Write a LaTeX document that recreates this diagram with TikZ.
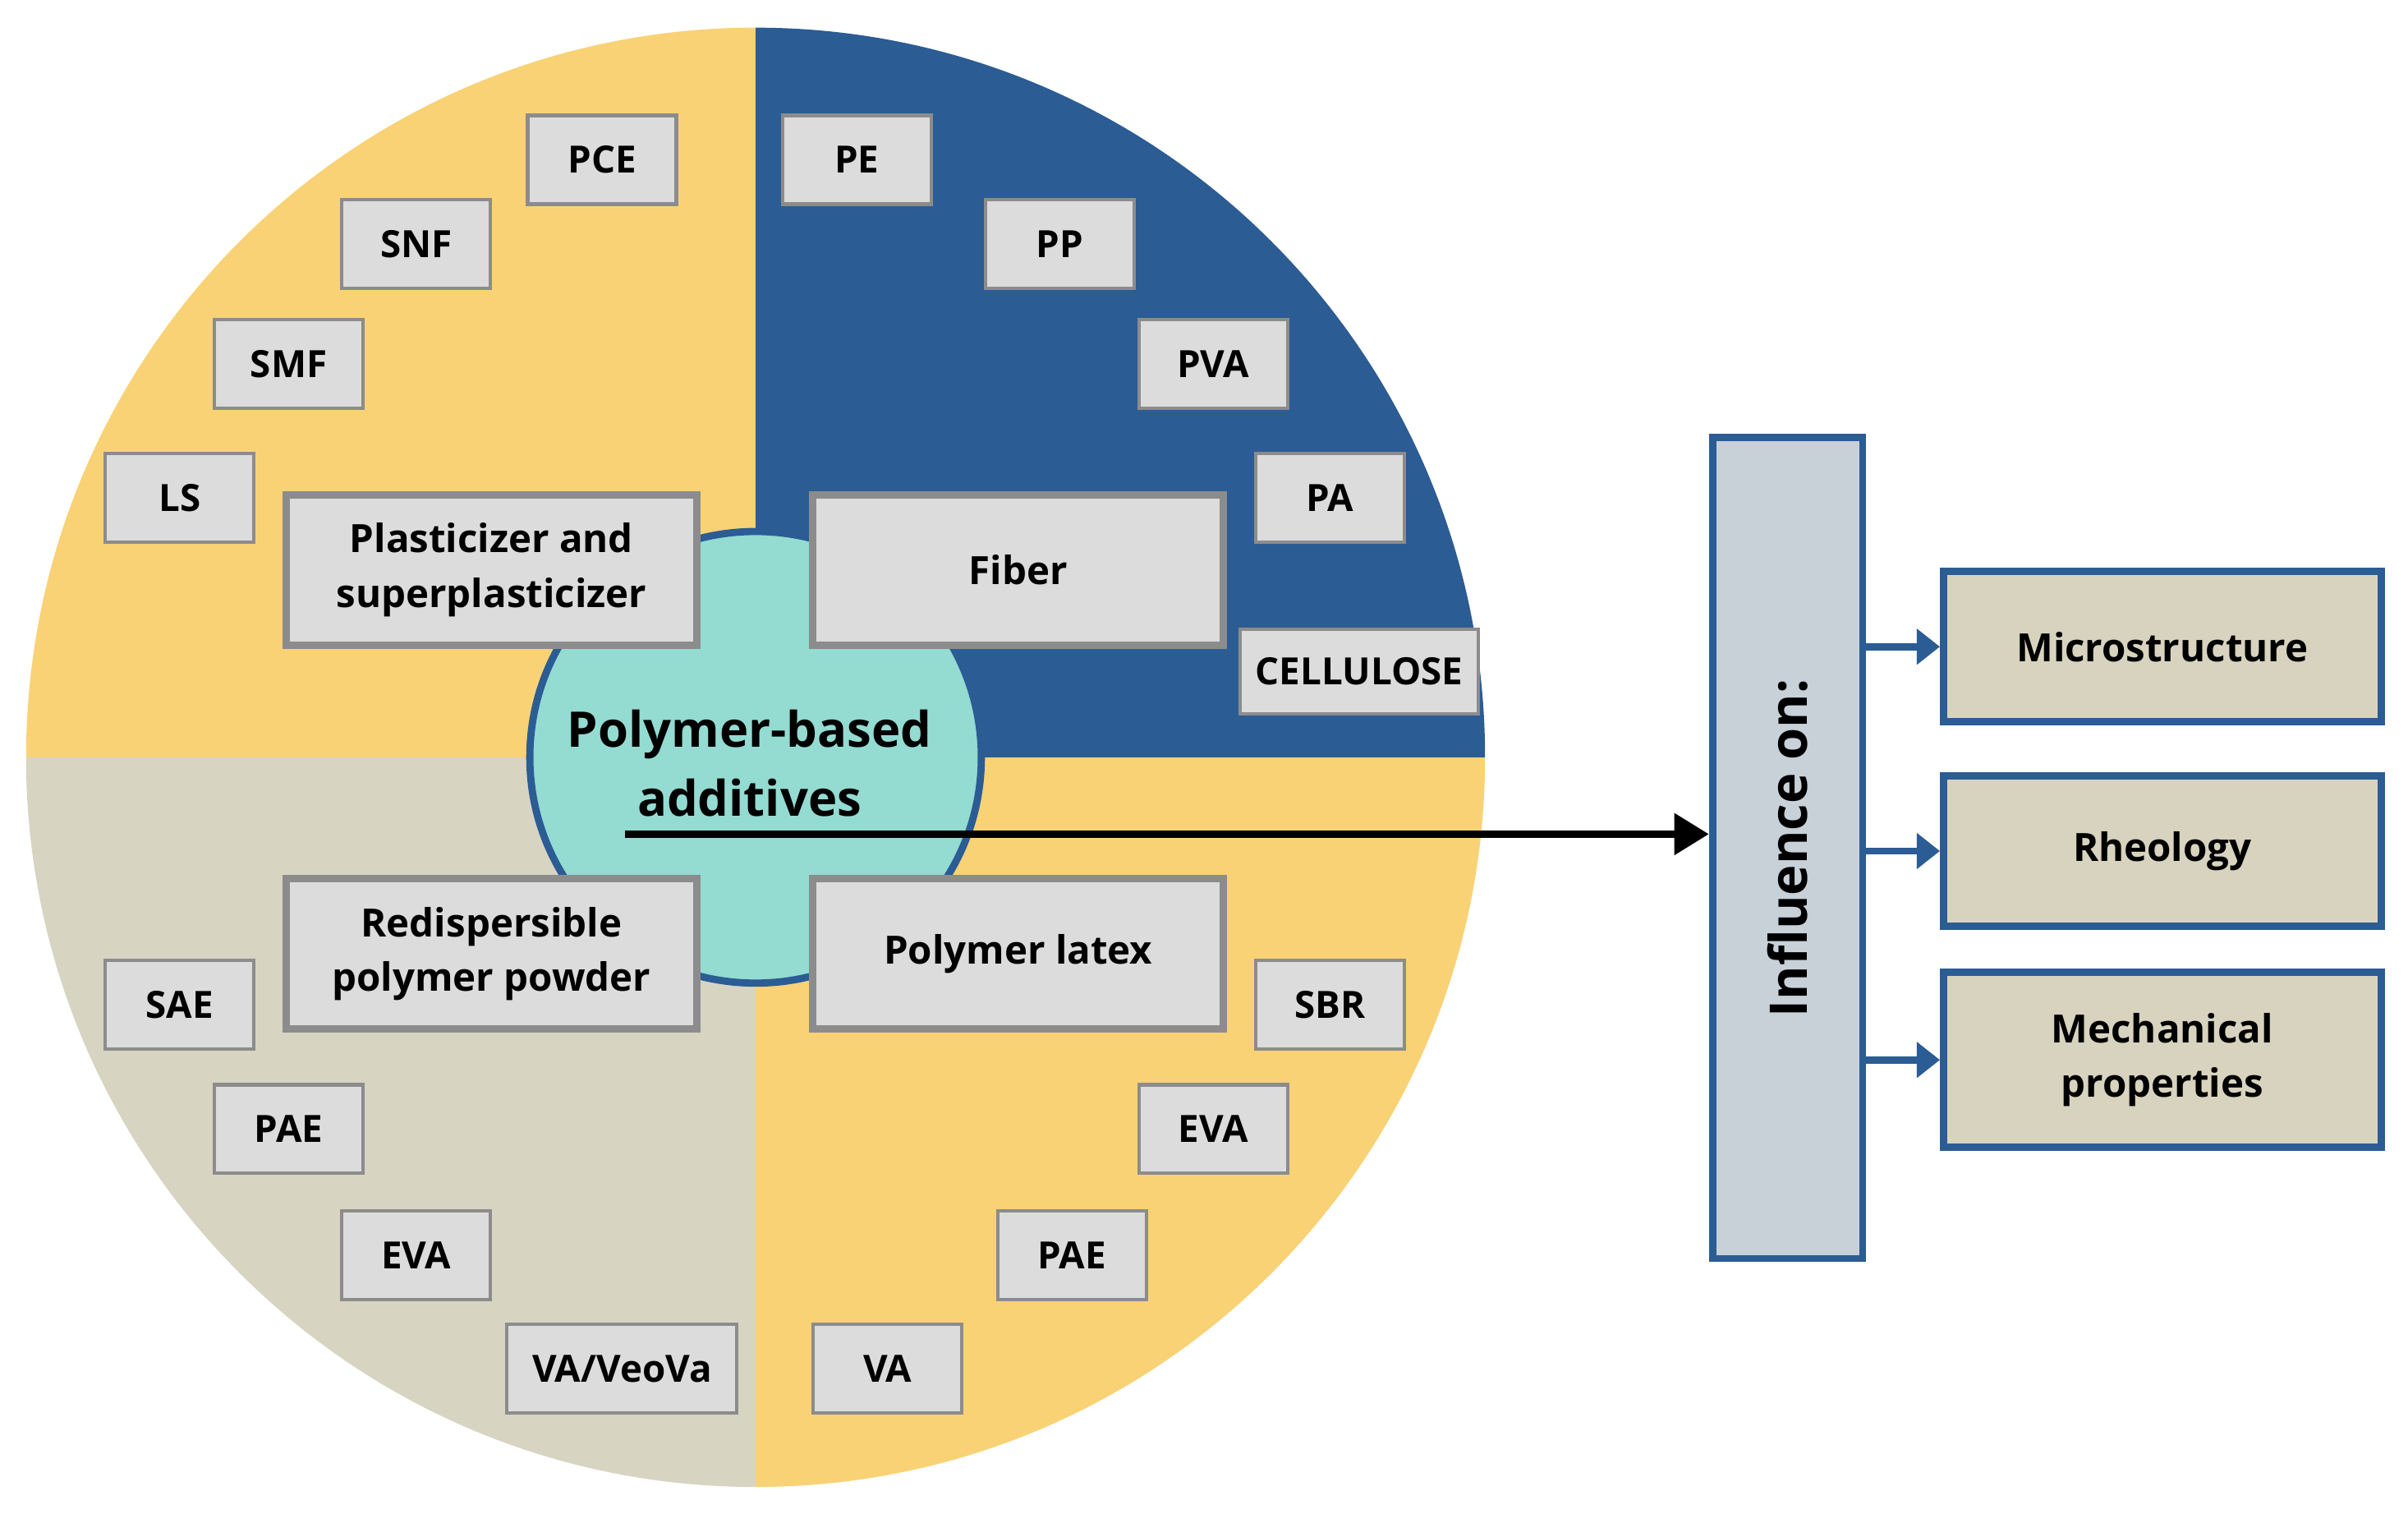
\documentclass[tikz,border=0pt]{standalone}
\usepackage{fontspec}
\setmainfont{Open Sans}
\usetikzlibrary{arrows.meta}
\definecolor{cyel}{HTML}{F9D276}
\definecolor{cblue}{HTML}{2B5C94}
\definecolor{cbeige}{HTML}{D8D4C2}
\definecolor{cteal}{HTML}{94DBD2}
\definecolor{cgray}{HTML}{DCDCDC}
\definecolor{cgbord}{HTML}{8C8C8C}
\definecolor{cinfl}{HTML}{C8D0D8}
\definecolor{cres}{HTML}{D8D3BF}
\begin{document}
\begin{tikzpicture}[x=0.0187cm,y=-0.0187cm,
  tag/.style={draw=cgbord,fill=cgray,line width=1.2pt,minimum width=1.81cm,minimum height=1.08cm,font=\bfseries\fontsize{13}{15}\selectfont,inner sep=2pt},
  cat/.style={draw=cgbord,fill=cgray,line width=2.5pt,minimum width=5.0cm,minimum height=1.83cm,align=center,font=\bfseries\fontsize{13.5}{19}\selectfont},
  res/.style={draw=cblue,fill=cres,line width=2.5pt,minimum width=5.33cm,minimum height=1.83cm,align=center,font=\bfseries\fontsize{13.5}{19}\selectfont},
  blarr/.style={-{Triangle[length=8pt,width=12pt]},draw=cblue,line width=2.5pt}]
\useasboundingbox (0,0) rectangle (1568,985.6);
\begin{scope}
  \clip (492,493) circle (475);
  \fill[cyel] (0,0) rectangle (492,493);
  \fill[cblue] (492,0) rectangle (1000,493);
  \fill[cbeige] (0,493) rectangle (492,1000);
  \fill[cyel] (492,493) rectangle (1000,1000);
\end{scope}
\node[circle,draw=cblue,fill=cteal,line width=2.5pt,minimum size=5.5cm] (core) at (492,493) {};
% left top
\node[tag] (pce) at (392,104) {PCE};
\node[tag] (snf) at (271,159) {SNF};
\node[tag] (smf) at (188,237) {SMF};
\node[tag] (ls) at (117,324) {LS};
\node[cat] (plast) at (320,371) {Plasticizer and\\superplasticizer};
% right top
\node[tag] (pe) at (558,104) {PE};
\node[tag] (pp) at (690,159) {PP};
\node[tag] (pva) at (790,237) {PVA};
\node[tag] (pa) at (866,324) {PA};
\node[tag,minimum width=2.9cm,minimum height=1.03cm] (cell) at (885,437) {CELLULOSE};
\node[cat] (fiber) at (663,371) {Fiber};
% bottom
\node[cat] (rdp) at (320,621) {Redispersible\\polymer powder};
\node[cat] (latex) at (663,621) {Polymer latex};
\node[tag] (sae) at (117,654) {SAE};
\node[tag] (pae1) at (188,735) {PAE};
\node[tag] (eva1) at (271,817) {EVA};
\node[tag,minimum width=2.8cm] (veova) at (405,891) {VA/VeoVa};
\node[tag] (sbr) at (866,654) {SBR};
\node[tag] (eva2) at (790,735) {EVA};
\node[tag] (pae2) at (698,817) {PAE};
\node[tag] (va) at (578,891) {VA};
\node[align=center,font=\bfseries\fontsize{17}{24}\selectfont] (ctext) at (488,497) {Polymer-based\\additives};
\coordinate (src) at (407,543);
% influence
\node[draw=cblue,fill=cinfl,line width=2.5pt,minimum width=1.83cm,minimum height=10.0cm] (infl) at (1164,552) {};
\node[rotate=90,font=\bfseries\fontsize{18}{22}\selectfont] at (infl.center) {Influence on:};
\draw[-{Triangle[length=12pt,width=14pt]},line width=2.5pt] (src) -- (src -| infl.west);
\node[res] (micro) at (1408,421) {Microstructure};
\node[res] (rheo) at (1408,554) {Rheology};
\node[res,minimum height=2.13cm] (mech) at (1408,690) {Mechanical\\properties};
\draw[blarr] (micro.west -| infl.east) -- (micro.west);
\draw[blarr] (rheo.west -| infl.east) -- (rheo.west);
\draw[blarr] (mech.west -| infl.east) -- (mech.west);
\end{tikzpicture}
\end{document}
